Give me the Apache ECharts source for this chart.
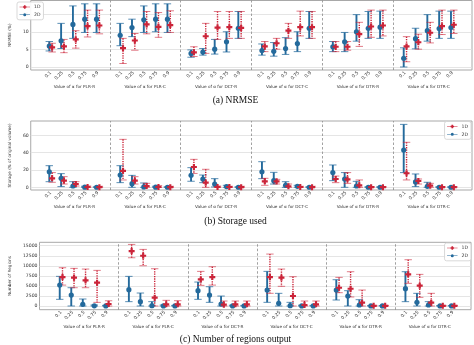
<!DOCTYPE html>
<html><head><meta charset="utf-8">
<script src="https://cdn.jsdelivr.net/npm/echarts@6/dist/echarts.min.js"></script>
<style>html,body{margin:0;padding:0;background:#fff}#c{width:474px;height:345px}</style>
</head><body><div id="c"></div>
<script>
const alphas = ['0.1','0.25','0.5','0.75','0.9'];
const methods = ['PLR-R','PLR-C','DCT-R','DCT-C','DTR-R','DTR-C'];

// (a) NRMSE (%) — order: PLR-R, PLR-C, DCT-R, DCT-C, DTR-R, DTR-C; alpha 0.1..0.9
const nrmse2D     = [6.0,7.5,12.2,13.7,13.7, 9.1,11.3,13.5,13.7,13.7, 3.9,4.3,5.1,7.2,11.1, 4.7,4.5,5.3,6.7,11.1, 5.8,7.2,10.1,11.1,11.4, 2.5,8.1,10.4,11.0,11.3];
const nrmse2DLow  = [4.6,5.3,8.2,9.9,9.9, 6.1,8.7,9.9,10.1,9.9, 2.8,3.4,3.7,4.3,8.2, 3.4,3.1,3.6,4.4,8.2, 4.4,4.4,7.4,8.2,8.2, 0.0,5.2,7.4,8.2,8.2];
const nrmse2DHigh = [7.3,12.5,17.5,18.1,18.1, 12.5,13.7,17.5,18.1,18.1, 4.9,5.3,7.9,10.1,15.9, 6.6,7.0,8.4,10.1,15.9, 7.3,9.9,15.0,15.9,16.0, 5.5,11.1,15.0,16.0,16.0];
const nrmse1D     = [5.6,5.9,7.9,11.7,11.9, 5.4,7.6,12.2,11.5,12.0, 4.2,8.8,11.3,11.4,11.2, 5.9,6.8,10.4,11.4,11.4, 5.8,5.8,9.4,11.6,11.9, 5.9,7.1,9.8,11.7,12.1];
const nrmse1DLow  = [4.3,4.1,5.4,8.6,9.5, 1.0,4.8,9.5,8.5,9.9, 3.0,3.9,7.9,8.2,8.2, 4.4,5.1,8.2,8.9,8.2, 4.4,4.8,5.9,8.5,8.9, 1.5,5.1,6.9,9.3,9.6];
const nrmse1DHigh = [6.8,7.9,10.4,16.3,16.3, 8.2,9.6,15.9,15.6,16.1, 5.8,12.5,15.9,15.9,15.9, 7.3,8.2,12.5,16.0,15.9, 7.3,7.3,12.8,16.3,16.3, 8.7,9.4,12.8,16.3,16.3];

// (b) Storage (% of original volume)
const stor2D     = [18,10.4,1.5,0.2,0.1, 14.2,4.2,0.5,0.2,0.1, 13.8,9.6,3.8,0.8,0.1, 18,7.7,2.3,1.2,0.1, 17,9.6,1.5,0.1,0.1, 43,6.2,1.2,0.1,0.1];
const stor2DLow  = [6.5,0.8,0,0,0, 5.4,0,0,0,0, 7,5.4,0.4,0,0, 10,3.8,0,0,0, 7.7,0,0,0,0, 17,0.8,0,0,0];
const stor2DHigh = [25,15.8,6.5,1.2,0.6, 25,13.8,5,1.2,0.6, 22.7,14.2,10,2.3,0.6, 29.6,17.3,6.5,2.3,0.6, 25.8,17,6.9,0.6,0.6, 72.7,15.4,5.8,0.6,0.6];
const stor1D     = [10.4,7.7,3.8,0.4,0.2, 19,7.7,1.5,0.4,0.2, 23.5,5.4,0.4,0.4,0.2, 6.9,6.9,1.2,0.4,0.2, 9.6,9.2,2.3,0.2,0.2, 16.2,7.3,1.9,0.2,0.2];
const stor1DLow  = [5.8,3.8,1.5,0,0, 8.5,3.8,0,0,0, 16,0,0,0,0, 2.3,3.8,0,0,0, 5.4,4.6,0,0,0, 8.5,3.8,0,0,0];
const stor1DHigh = [17,12.3,6.5,1.5,1.2, 55.4,12.3,4.6,2,1.2, 32.3,20.8,1.5,1.2,1.2, 10.4,9.2,3.8,1.2,1.2, 13,17,8.5,0.8,0.8, 52,9.6,4.6,0.8,0.8];

// (c) Number of Regions
const reg2D     = [5200,2730,410,50,20, 4060,1080,80,30,20, 3810,2730,500,30,20, 3970,660,80,30,20, 3970,2480,250,20,20, 4300,910,250,20,20];
const reg2DLow  = [1660,0,0,0,0, 1080,0,0,0,0, 1660,910,0,0,0, 910,0,0,0,0, 1490,0,0,0,0, 1080,0,0,0,0];
const reg2DHigh = [7370,4550,1740,250,150, 7370,3230,1080,250,150, 5960,4800,2480,200,150, 8610,3150,910,200,150, 6540,3810,1570,100,100, 8530,3150,1080,100,100];
const reg1D     = [7200,7040,6380,5800,500, 13660,12500,2070,410,410, 6620,7200,330,410,410, 7200,7040,2480,250,410, 4550,4300,830,40,40, 7870,5050,830,40,40];
const reg1DLow  = [5200,4550,4550,900,0, 12000,10020,0,0,0, 5130,5200,0,0,0, 3150,4890,0,0,0, 3310,2240,0,0,0, 5630,2150,0,0,0];
const reg1DHigh = [9520,9360,9190,8860,1300, 15320,14080,9270,1410,1320, 8610,9770,1240,1240,1240, 12920,9190,7290,1240,1240, 7120,8530,3970,150,150, 11510,7870,3150,150,150];

const yTicksA = [0,5,10,15];
const yTicksB = [0,20,40,60];
const yTicksC = [0,2500,5000,7500,10000,12500,15000];
const yNames = ['NRMSE (%)','Storage (% of original volume)','Number of Regions'];
const captions = ['(a) NRMSE','(b) Storage used','(c) Number of regions output'];

const BLUE = '#246a9c', RED = '#cb2439';
const FONT = 'DejaVu Sans';
const SMALL = 4.2;
const TICK = 4.6;

const panels = [
  {grid:{left:16,right:2,top:0.5,height:69.5}, xr:[-0.69,36.66], ymin:-0.86, ymax:19.05, ticks:yTicksA,
   d2:[nrmse2D,nrmse2DLow,nrmse2DHigh], d1:[nrmse1D,nrmse1DLow,nrmse1DHigh], nameGap:9.3,
   legend:{left:17,top:2}, capY:100},
  {grid:{left:16,right:2,top:121,height:69}, xr:[-0.69,36.66], ymin:-3.1, ymax:76.6, ticks:yTicksB,
   d2:[stor2D,stor2DLow,stor2DHigh], d1:[stor1D,stor1DLow,stor1DHigh], nameGap:10,
   legend:{right:3,top:121.5}, capY:221},
  {grid:{left:22.7,right:3,top:242.3,height:67.4}, xr:[-0.875,36.57], ymin:-920, ymax:15846, ticks:yTicksC,
   d2:[reg2D,reg2DLow,reg2DHigh], d1:[reg1D,reg1DLow,reg1DHigh], nameGap:13.7,
   legend:{right:3,top:243}, capY:339}
];

const xPos = [];
const groupPos = [];
const sepPos = [];
methods.forEach((m,g)=>{
  alphas.forEach((a,k)=>xPos.push(6*g+k+1));
  groupPos.push(6*g+3);
  if (g>0) sepPos.push(6*g);
});
function xLabel(v){ const k = Math.round(v-1)%6; return alphas[k] || ''; }
function gLabel(v){ const g = Math.round((v-3)/6); return 'Value of α for ' + methods[g]; }

const icon1D = 'path://M0,4.6H18V5.4H0Z M7.6,2H10.4V3.6H12V6.4H10.4V8H7.6V6.4H6V3.6H7.6Z';
const icon2D = 'path://M0,4.6H18V5.4H0Z M9,2.4A2.6,2.6 0 1,1 8.99,2.4Z';
const plus = 'path://M3.2,0H6.8V3.2H10V6.8H6.8V10H3.2V6.8H0V3.2H3.2Z';

function errRender(color, dashed){
  return function(params, api){
    const x = api.value(0), lo = api.value(1), hi = api.value(2);
    const p1 = api.coord([x, hi]), p2 = api.coord([x, lo]);
    const hw = 3.7;
    return {type:'group', children:[
      {type:'line', shape:{x1:p1[0],y1:p1[1],x2:p2[0],y2:p2[1]},
       style:{stroke:color, lineWidth: dashed?1.4:1.9, lineDash: dashed?[1.3,1.1]:null}},
      {type:'line', shape:{x1:p1[0]-hw,y1:p1[1],x2:p1[0]+hw,y2:p1[1]},
       style:{stroke:color, lineWidth:1, opacity: dashed?0.6:0.75}},
      {type:'line', shape:{x1:p2[0]-hw,y1:p2[1],x2:p2[0]+hw,y2:p2[1]},
       style:{stroke:color, lineWidth:1, opacity: dashed?0.6:0.75}}
    ]};
  };
}

const option = {animation:false, backgroundColor:'#fff', grid:[], xAxis:[], yAxis:[], series:[], legend:[], graphic:[]};
panels.forEach((p,i)=>{
  option.grid.push(Object.assign({show:true, borderColor:'#a8a8a8', borderWidth:1, backgroundColor:'#fff'}, p.grid));
  option.xAxis.push({type:'value', gridIndex:i, min:p.xr[0], max:p.xr[1],
    axisLine:{show:false}, axisTick:{show:false}, splitLine:{show:false},
    axisLabel:{customValues:xPos, formatter:xLabel, rotate:45, fontSize:TICK, fontFamily:FONT, color:'#333', margin:2}});
  option.xAxis.push({type:'value', gridIndex:i, min:p.xr[0], max:p.xr[1], position:'bottom',
    axisLine:{show:false}, axisTick:{show:false}, splitLine:{show:false},
    axisLabel:{customValues:groupPos, formatter:gLabel, fontSize:SMALL, fontFamily:FONT, color:'#333', margin:15}});
  option.yAxis.push({type:'value', gridIndex:i, min:p.ymin, max:p.ymax,
    name:yNames[i], nameLocation:'middle', nameGap:p.nameGap, nameRotate:90,
    nameTextStyle:{fontSize:SMALL, fontFamily:FONT, color:'#333'},
    axisLine:{show:false}, axisTick:{show:false, customValues:p.ticks},
    axisLabel:{customValues:p.ticks, formatter:v=>String(v), fontSize:TICK, fontFamily:FONT, color:'#333', margin:2},
    splitLine:{show:true, lineStyle:{color:'#dedede', width:0.8}}});
  const xa = 2*i;
  const e2 = xPos.map((x,j)=>[x-0.12, p.d2[1][j], p.d2[2][j]]);
  const e1 = xPos.map((x,j)=>[x+0.12, p.d1[1][j], p.d1[2][j]]);
  const m2 = xPos.map((x,j)=>[x-0.12, p.d2[0][j]]);
  const m1 = xPos.map((x,j)=>[x+0.12, p.d1[0][j]]);
  option.series.push({type:'custom', name:'2D', xAxisIndex:xa, yAxisIndex:i, data:e2,
    encode:{x:0, y:[1,2]}, renderItem:errRender(BLUE,false), itemStyle:{color:BLUE}, z:2});
  option.series.push({type:'custom', name:'1D', xAxisIndex:xa, yAxisIndex:i, data:e1,
    encode:{x:0, y:[1,2]}, renderItem:errRender(RED,true), itemStyle:{color:RED}, z:3});
  option.series.push({type:'scatter', name:'2D', xAxisIndex:xa, yAxisIndex:i, data:m2,
    symbol:'circle', symbolSize:5.2, itemStyle:{color:BLUE, opacity:1}, z:4,
    markLine:{silent:true, symbol:'none', label:{show:false},
      lineStyle:{type:[2.5,2], color:'#8a8a8a', width:0.8},
      data: sepPos.map(s=>({xAxis:s}))}});
  option.series.push({type:'scatter', name:'1D', xAxisIndex:xa, yAxisIndex:i, data:m1,
    symbol:plus, symbolSize:6, itemStyle:{color:RED, opacity:1}, z:5});
  option.legend.push(Object.assign({orient:'vertical', itemWidth:10.5, itemHeight:3.5, itemGap:2.8,
    padding:[2.5,3,2.5,2.5], backgroundColor:'rgba(255,255,255,0.9)', borderColor:'#cfcfcf', borderWidth:0.8, borderRadius:2,
    textStyle:{fontSize:SMALL+0.4, fontFamily:FONT, color:'#333', padding:[0,0,0,-1]},
    data:[{name:'1D', icon:icon1D, itemStyle:{color:RED}}, {name:'2D', icon:icon2D, itemStyle:{color:BLUE}}]}, p.legend));
  option.graphic.push({type:'text', x:235.5, y:p.capY,
    style:{text:captions[i], font:'9.5px "Liberation Serif"', fill:'#111', textAlign:'center', textVerticalAlign:'middle'}});
});

const chart = echarts.init(document.getElementById('c'));
chart.setOption(option);
</script>
</body></html>
